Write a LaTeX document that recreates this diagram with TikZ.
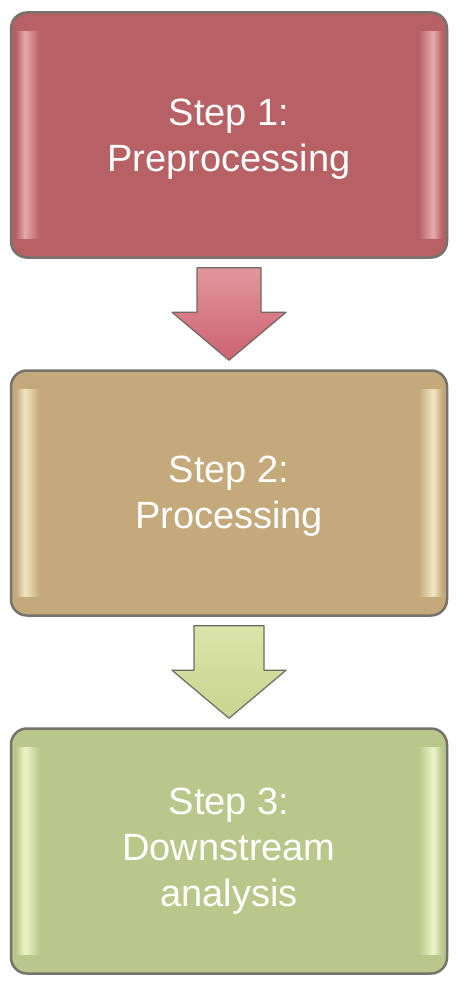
\documentclass[tikz,border=0pt]{standalone}
\usepackage{fontspec}
\setmainfont{Liberation Sans}
\usetikzlibrary{calc}
\definecolor{redbox}{RGB}{184,97,101}
\definecolor{redhl}{RGB}{228,170,170}
\definecolor{tanbox}{RGB}{196,169,123}
\definecolor{tanhl}{RGB}{240,230,195}
\definecolor{grnbox}{RGB}{186,199,139}
\definecolor{grnhl}{RGB}{238,244,200}
\definecolor{rim}{RGB}{118,114,108}
\definecolor{arrRtop}{RGB}{226,150,158}
\definecolor{arrRbot}{RGB}{205,98,112}
\definecolor{arrGtop}{RGB}{218,228,170}
\definecolor{arrGbot}{RGB}{200,212,142}
\definecolor{arredge}{RGB}{110,106,100}
\newcommand\boxhl[3]{%
  \shade[left color=#2, right color=#3] ($(#1.north west)+(6,20)$) rectangle ($(#1.south west)+(15,-20)$);
  \shade[left color=#3, right color=#2] ($(#1.north west)+(15,20)$) rectangle ($(#1.south west)+(30,-20)$);
  \shade[left color=#2, right color=#3] ($(#1.north east)+(-30,20)$) rectangle ($(#1.south east)+(-15,-20)$);
  \shade[left color=#3, right color=#2] ($(#1.north east)+(-15,20)$) rectangle ($(#1.south east)+(-6,-20)$);
}
\newcommand\blockarrow[5]{%
  \shade[top color=#3, bottom color=#4, draw=arredge, line width=1.2pt, line join=round]
    let \p1=($(#1.south)+(0,9)$), \p2=($(#2.north)+(0,-9)$) in
    (\x1-#5,\y1) -- (\x1+#5,\y1) -- (\x1+#5,\y2+48pt) -- (\x1+57pt,\y2+48pt)
    -- (\x1,\y2) -- (\x1-57pt,\y2+48pt) -- (\x1-#5,\y2+48pt) -- cycle;
}
\begin{document}
\begin{tikzpicture}[x=1pt,y=-1pt,
  stepbox/.style={draw=rim, line width=2.5pt, rounded corners=16pt,
    minimum width=436pt, minimum height=245pt, inner sep=0pt,
    text=white, align=center, font=\fontsize{38}{46}\selectfont}]
\useasboundingbox[fill=white] (0,0) rectangle (474,998);
\node[stepbox, fill=redbox] (s1) at (229,135) {};
\node[text=white, align=center, font=\fontsize{38}{46}\selectfont] (t1) at (229,139) {Step 1:\\Preprocessing};
\node[stepbox, fill=tanbox] (s2) at (229,493) {};
\node[text=white, align=center, font=\fontsize{38}{46}\selectfont] (t2) at (229,496) {Step 2:\\Processing};
\node[stepbox, fill=grnbox] (s3) at (229,851) {Step 3:\\Downstream\\analysis};
\boxhl{s1}{redbox}{redhl}
\boxhl{s2}{tanbox}{tanhl}
\boxhl{s3}{grnbox}{grnhl}
\blockarrow{s1}{s2}{arrRtop}{arrRbot}{32pt}
\blockarrow{s2}{s3}{arrGtop}{arrGbot}{35pt}
\end{tikzpicture}
\end{document}
